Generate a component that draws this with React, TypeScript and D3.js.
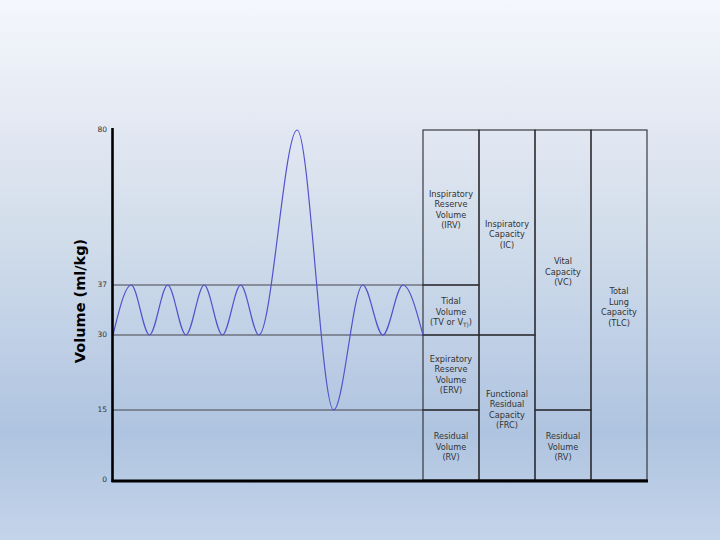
import * as d3 from "d3";

// breathing trace: turning points (time, volume ml/kg)
const TIME = [0, 1, 2, 3, 4, 5, 6, 7, 8, 10.1, 12.1, 13.7, 14.8, 15.9, 17];
const VOLUME = [30, 37, 30, 37, 30, 37, 30, 37, 30, 80, 15, 37, 30, 37, 30];

const Y_TICKS = [0, 15, 30, 37, 80];
const GUIDES = [37, 30, 15];

const COLUMNS = ["volumes", "capacities", "vital", "total"];

const SEG_COL = [0, 0, 0, 0, 1, 1, 2, 2, 3];
const SEG_LO = [37, 30, 15, 0, 30, 0, 15, 0, 0];
const SEG_HI = [80, 37, 30, 15, 80, 30, 80, 15, 80];
const SEG_LABELS = [
  ["Inspiratory", "Reserve", "Volume", "(IRV)"],
  ["Tidal", "Volume", "(TV or V|T)"],
  ["Expiratory", "Reserve", "Volume", "(ERV)"],
  ["Residual", "Volume", "(RV)"],
  ["Inspiratory", "Capacity", "(IC)"],
  ["Functional", "Residual", "Capacity", "(FRC)"],
  ["Vital", "Capacity", "(VC)"],
  ["Residual", "Volume", "(RV)"],
  ["Total", "Lung", "Capacity", "(TLC)"],
];

export default function App() {
  const W = 720;
  const H = 540;
  const axisX = 113;

  // non-linear (piecewise) vertical scale as in the original figure
  const y = d3.scaleLinear().domain([0, 15, 30, 37, 80]).range([480, 410, 335, 285, 130]);
  const x = d3.scaleLinear().domain([0, 17]).range([axisX, 423]);
  const col = d3.scaleBand<string>().domain(COLUMNS).range([423, 647]).padding(0);

  const pts = TIME.map((t, i) => [t, VOLUME[i]] as [number, number]);
  const line = d3
    .line<[number, number]>()
    .x((d) => x(d[0]))
    .y((d) => y(d[1]))
    .curve(d3.curveMonotoneX);

  const font = "'DejaVu Sans', sans-serif";
  const lh = 10.5;

  return (
    <svg
      width={W}
      height={H}
      style={{ position: "absolute", left: 0, top: 0, display: "block" }}
      fontFamily={font}
    >
      <defs>
        <linearGradient id="bg" x1="0" y1="0" x2="0" y2="1">
          <stop offset="0" stopColor="#f4f7fc" />
          <stop offset="0.22" stopColor="#e4e9f3" />
          <stop offset="0.45" stopColor="#d0dcea" />
          <stop offset="0.62" stopColor="#c0d0e6" />
          <stop offset="0.8" stopColor="#afc4e0" />
          <stop offset="1" stopColor="#c4d4ea" />
        </linearGradient>
      </defs>
      <rect width={W} height={H} fill="url(#bg)" />

      {/* guide lines across the trace area */}
      {GUIDES.map((v) => (
        <line key={v} x1={axisX} x2={423} y1={y(v)} y2={y(v)} stroke="#44444e" strokeWidth={1} />
      ))}

      {/* column boxes */}
      {SEG_COL.map((c, i) => {
        const x0 = col(COLUMNS[c])!;
        const bw = col.bandwidth();
        const y0 = y(SEG_HI[i]);
        const y1 = y(SEG_LO[i]);
        const lines = SEG_LABELS[i];
        const cy = (y0 + y1) / 2 + 2;
        const start = cy - ((lines.length - 1) * lh) / 2;
        return (
          <g key={i}>
            <rect x={x0} y={y0} width={bw} height={y1 - y0} fill="none" stroke="#2b2b30" strokeWidth={1.1} />
            {lines.map((t, j) => {
              const [main, sub] = t.split("|");
              return (
                <text
                  key={j}
                  x={x0 + bw / 2}
                  y={start + j * lh}
                  dy="0.35em"
                  textAnchor="middle"
                  fontSize={8.2}
                  fill="#333"
                >
                  {main}
                  {sub && (
                    <tspan fontSize={5.8} dy="1.5">
                      {sub}
                    </tspan>
                  )}
                  {sub && <tspan dy="-1.5">)</tspan>}
                </text>
              );
            })}
          </g>
        );
      }).reverse()}

      {/* breathing trace */}
      <path d={line(pts) ?? ""} fill="none" stroke="#5252cc" strokeWidth={1.2} />

      {/* axes */}
      <line x1={axisX - 0.5} x2={axisX - 0.5} y1={128} y2={482} stroke="#000" strokeWidth={2.6} />
      <line x1={axisX - 1.5} x2={648} y1={481} y2={481} stroke="#000" strokeWidth={3} />

      {Y_TICKS.map((v) => (
        <text key={v} x={107} y={y(v)} dy="0.32em" textAnchor="end" fontSize={7.5} fill="#333">
          {v}
        </text>
      ))}

      <text
        transform={`translate(80,${301}) rotate(-90)`}
        textAnchor="middle"
        dy="0.35em"
        fontSize={14.5}
        fontWeight="bold"
        fill="#000"
      >
        Volume (ml/kg)
      </text>
    </svg>
  );
}
